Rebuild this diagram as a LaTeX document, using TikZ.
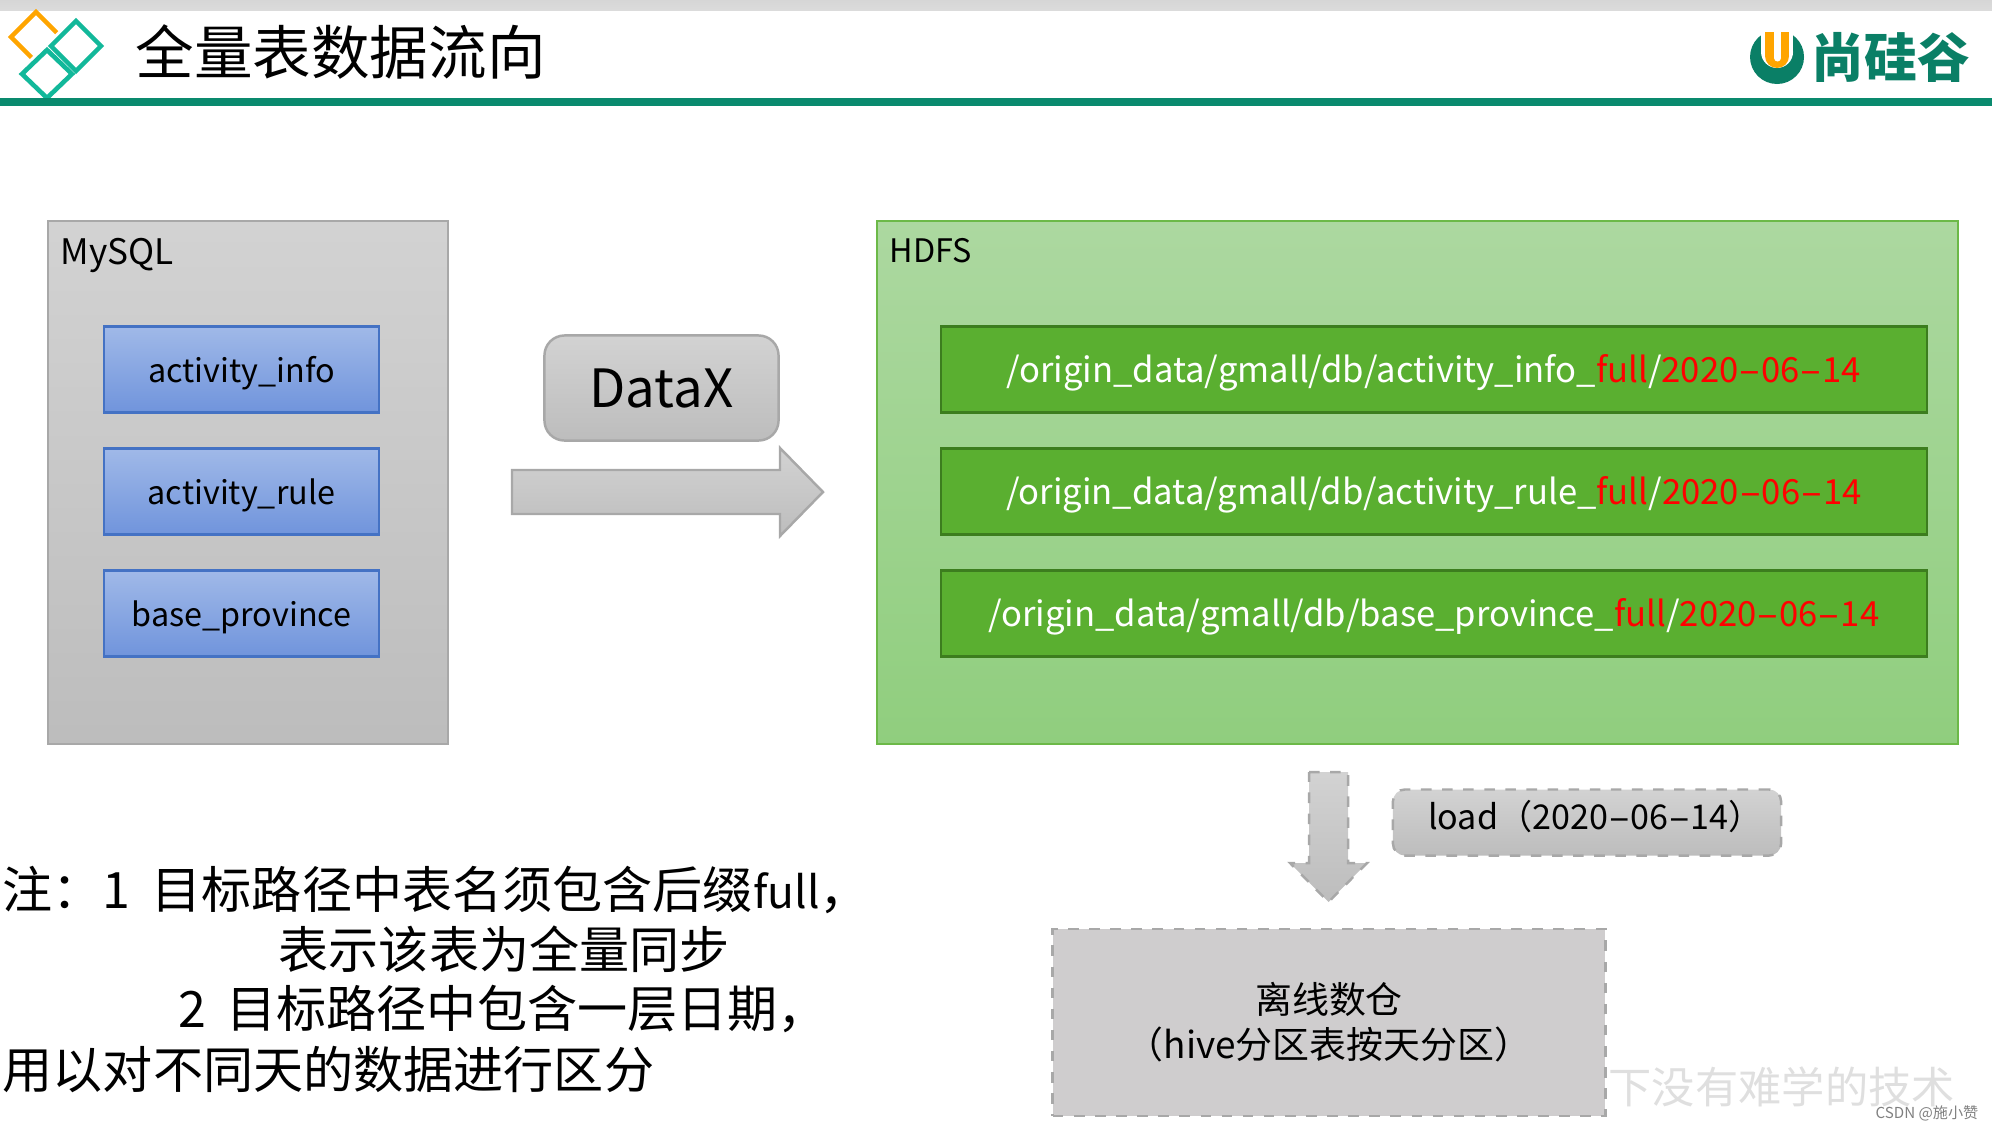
\documentclass[tikz,border=0pt]{standalone}
\usepackage{fontspec}
\setmainfont{Noto Sans CJK SC}
\definecolor{barteal}{HTML}{0A8A6E}
\definecolor{logoteal}{HTML}{0A7F66}
\definecolor{diamteal}{HTML}{12B89A}
\definecolor{logoorange}{HTML}{FFA500}
\definecolor{boxedge}{HTML}{A8A8A8}
\definecolor{pathred}{HTML}{FF0000}
\newcommand{\fsz}[1]{\fontsize{#1}{#1}\selectfont}
\newcommand{\wdash}{\scalebox{1.9}[1]{-}}
\newcommand{\hdfspath}[1]{/origin\_data/gmall/db/#1\_\textcolor{pathred}{full}/\textcolor{pathred}{2020\wdash 06\wdash 14}}
\tikzset{
  grayfill/.style={top color=gray!35!white,bottom color=gray!52!white,draw=boxedge,line width=0.7pt},
  tablebox/.style={draw={rgb,255:red,68;green,114;blue,196},line width=0.6pt,top color={rgb,255:red,160;green,185;blue,232},bottom color={rgb,255:red,112;green,148;blue,220},minimum width=2.74cm,minimum height=0.86cm,inner sep=0pt,text height=7.8pt,text depth=0.6pt,font=\fsz{9.2}},
  pathbox/.style={draw={rgb,255:red,60;green,125;blue,30},line width=0.6pt,fill={rgb,255:red,90;green,175;blue,48},minimum width=9.85cm,minimum height=0.86cm,inner sep=0pt,text=white,text height=7.8pt,text depth=0.6pt,font=\fsz{9.85}},
  titletext/.style={anchor=west,inner sep=0pt,font=\fsz{14.25}},
  dashbox/.style={draw=boxedge,dashed,line width=0.8pt},
  diamond line/.style={line width=1.3pt,line join=miter}
}
\begin{document}
\begin{tikzpicture}[x=0.01cm,y=-0.01cm]
\useasboundingbox (0,0) rectangle (1992,1130);
\shade[top color=gray!32!white,bottom color=gray!28!white] (0,0) rectangle (1992,10);
\draw[logoorange,diamond line] (36,12) -- (61,37) -- (36,62) -- (11,37) -- cycle;
\draw[white,line width=3pt] (76,21) -- (101,46) -- (76,71) -- (51,46) -- cycle;
\draw[white,line width=3pt] (47,50) -- (72,74) -- (47,98) -- (22,74) -- cycle;
\draw[diamteal,diamond line] (76,21) -- (101,46) -- (76,71) -- (51,46) -- cycle;
\draw[diamteal,diamond line] (47,50) -- (72,74) -- (47,98) -- (22,74) -- cycle;
\fill[barteal] (0,98) rectangle (1992,106);
\node[inner sep=0pt,anchor=west,font=\fsz{16.65}] (title) at (135,52) {全量表数据流向};
\fill[logoteal] (1777,57) circle (27);
\fill[white] (1761,26) rectangle (1793,52);
\fill[white] (1777,52) circle (16);
\fill[logoorange] (1765,32) rectangle (1789,56);
\fill[logoorange] (1777,56) circle (12);
\fill[white] (1774,32) rectangle (1781,58);
\fill[white] (1777.5,58) circle (3.5);
\node[inner sep=0pt,anchor=west,text=logoteal,font=\bfseries\fsz{15}] (logo) at (1811,57) {尚硅谷};
\node[grayfill,minimum width=4cm,minimum height=5.23cm] (mysql) at (248,482.5) {};
\node[inner sep=0pt,anchor=west,font=\fsz{10}] (mysqllabel) at (60,255) {MySQL};
\node[tablebox] (info) at (241.5,369.5) {activity\_info};
\node[tablebox] (rule) at (241.5,491.5) {activity\_rule};
\node[tablebox] (province) at (241.5,613.5) {base\_province};
\node[grayfill,rounded corners=0.2cm,minimum width=2.34cm,minimum height=1.05cm,font=\fsz{15}] (datax) at (661.5,388) {DataX};
\draw[grayfill] (512,470) -- (780,470) -- (780,448) -- (823,492) -- (780,536) -- (780,514) -- (512,514) -- cycle;
\node[draw={rgb,255:red,108;green,185;blue,72},line width=0.6pt,top color={rgb,255:red,172;green,216;blue,160},bottom color={rgb,255:red,144;green,206;blue,126},minimum width=10.81cm,minimum height=5.23cm] (hdfs) at (1417.5,482.5) {};
\node[inner sep=0pt,anchor=west,font=\fsz{9.2}] (hdfslabel) at (889,251) {HDFS};
\node[pathbox] (infopath) at (1434,369.5) {\hdfspath{activity\_info}};
\node[pathbox] (rulepath) at (1434,491.5) {\hdfspath{activity\_rule}};
\node[pathbox] (provincepath) at (1434,613.5) {\hdfspath{base\_province}};
\draw[grayfill,dashed] (1309,772) -- (1348,772) -- (1348,863) -- (1367,863) -- (1328.5,902) -- (1290,863) -- (1309,863) -- cycle;
\node[grayfill,dashed,rounded corners=0.12cm,minimum width=3.88cm,minimum height=0.66cm,text height=7pt,text depth=3pt,font=\fsz{9.7}] (load) at (1587,822.5) {\hspace*{0.5em}load（2020\wdash 06\wdash 14）};
\node[dashbox,fill={rgb,255:red,207;green,205;blue,206},minimum width=5.52cm,minimum height=1.87cm] (offline) at (1329,1022.5) {};
\node[font=\fontsize{10.5}{13}\selectfont,align=center,inner sep=0pt] (offlinelabel) at (1329,1022) {离线数仓\\（hive分区表按天分区）};
\node[titletext] (notea) at (2,890) {注：1\hspace{0.42em}目标路径中表名须包含后缀{\fsz{12.6}full}，};
\node[titletext] (noteb) at (278,949) {表示该表为全量同步};
\node[titletext] (notec) at (178,1009) {2\hspace{0.4em}目标路径中包含一层日期，};
\node[titletext] (noted) at (2,1069) {用以对不同天的数据进行区分};
\node[inner sep=0pt,anchor=west,text=gray!25!white,font=\fsz{12.3}] (mark) at (1608,1087) {下没有难学的技术};
\node[inner sep=0pt,anchor=east,text=gray,font=\fsz{4.3}] (csdn) at (1979,1113) {CSDN @施小赞};
\end{tikzpicture}
\end{document}
